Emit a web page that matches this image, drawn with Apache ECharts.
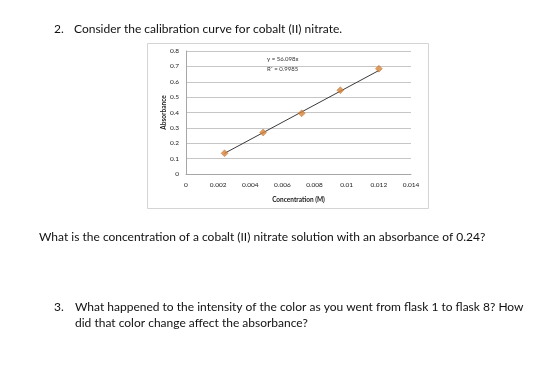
<!DOCTYPE html>
<html>
<head>
<meta charset="utf-8">
<script src="https://cdn.jsdelivr.net/npm/echarts@6/dist/echarts.min.js"></script>
<style>
  html, body { margin: 0; padding: 0; background: #fff; }
  #chart { width: 560px; height: 369px; }
</style>
</head>
<body>
<div id="chart"></div>
<script>
// Calibration data for cobalt (II) nitrate standards
const concentration = [0.0024, 0.0048, 0.0072, 0.0096, 0.012];
const absorbance = [0.135, 0.27, 0.395, 0.545, 0.685];
// Linear fit through the origin, as reported on the chart
const slope = 56.098;
const rSquared = '0.9985';

const TEXT_FONT = 'Lato, "Open Sans", sans-serif';

const points = concentration.map((c, i) => [c, absorbance[i]]);
const xMin = Math.min(...concentration);
const xMax = Math.max(...concentration);
const trend = [[xMin, slope * xMin], [xMax, slope * xMax]];

const chart = echarts.init(document.getElementById('chart'), null, { renderer: 'canvas' });

const axisLabelStyle = { fontFamily: TEXT_FONT, fontSize: 6.5, color: '#222' };
const gridLine = { show: true, lineStyle: { color: '#c6c6c6', width: 1 } };

chart.setOption({
  animation: false,
  backgroundColor: '#ffffff',
  grid: { left: 186, top: 51, width: 225, height: 123, containLabel: false },
  xAxis: {
    type: 'value', min: 0, max: 0.014, interval: 0.002,
    axisLine: { show: true, onZero: false, lineStyle: { color: '#a6a6a6' } },
    axisTick: { show: false },
    splitLine: { show: false },
    axisLabel: Object.assign({ margin: 7 }, axisLabelStyle),
    name: 'Concentration (M)', nameLocation: 'middle', nameGap: 22,
    nameTextStyle: { fontFamily: TEXT_FONT, fontSize: 6.5, fontWeight: 'bold', color: '#1a1a1a' }
  },
  yAxis: {
    type: 'value', min: 0, max: 0.8, interval: 0.1,
    axisLine: { show: true, lineStyle: { color: '#a6a6a6' } },
    axisTick: { show: false },
    splitLine: gridLine,
    axisLabel: Object.assign({ margin: 7 }, axisLabelStyle)
  },
  series: [
    {
      type: 'line', data: trend, symbol: 'none',
      lineStyle: { color: '#3a3a3a', width: 1 }, z: 2, silent: true
    },
    {
      type: 'scatter', data: points, symbol: 'diamond', symbolSize: 7,
      itemStyle: { color: '#d7833a', borderColor: '#b96a26', borderWidth: 0.5 }, z: 3
    }
  ],
  graphic: [
    // chart frame
    { type: 'rect', shape: { x: 147.5, y: 43.5, width: 281, height: 165 },
      style: { fill: 'none', stroke: '#d4d4d4', lineWidth: 1 }, z: 0 },
    // y-axis title, rotated and centred on the plot height
    { type: 'text', x: 163.5, y: 112.5, rotation: Math.PI / 2,
      style: { text: 'Absorbance', font: 'bold 6.5px ' + TEXT_FONT, fill: '#1a1a1a',
               align: 'center', verticalAlign: 'middle' } },
    // fit equation
    { type: 'text', left: 267, top: 56,
      style: { text: 'y = ' + slope + 'x', font: '6px ' + TEXT_FONT, fill: '#333' } },
    { type: 'text', left: 267, top: 66,
      style: { text: 'R² = ' + rSquared, font: '6px ' + TEXT_FONT, fill: '#333' } },
    // worksheet text
    { type: 'text', left: 54, top: 23,
      style: { text: '2.', font: '12px ' + TEXT_FONT, fill: '#111' } },
    { type: 'text', left: 74, top: 23,
      style: { text: 'Consider the calibration curve for cobalt (II) nitrate.', font: '12px ' + TEXT_FONT, fill: '#111' } },
    { type: 'text', left: 39, top: 231,
      style: { text: 'What is the concentration of a cobalt (II) nitrate solution with an absorbance of 0.24?', font: '12px ' + TEXT_FONT, fill: '#111' } },
    { type: 'text', left: 54, top: 301,
      style: { text: '3.', font: '12px ' + TEXT_FONT, fill: '#111' } },
    { type: 'text', left: 75, top: 301,
      style: { text: 'What happened to the intensity of the color as you went from flask 1 to flask 8? How', font: '12px ' + TEXT_FONT, fill: '#111' } },
    { type: 'text', left: 75, top: 317,
      style: { text: 'did that color change affect the absorbance?', font: '12px ' + TEXT_FONT, fill: '#111' } }
  ]
});
</script>
</body>
</html>
